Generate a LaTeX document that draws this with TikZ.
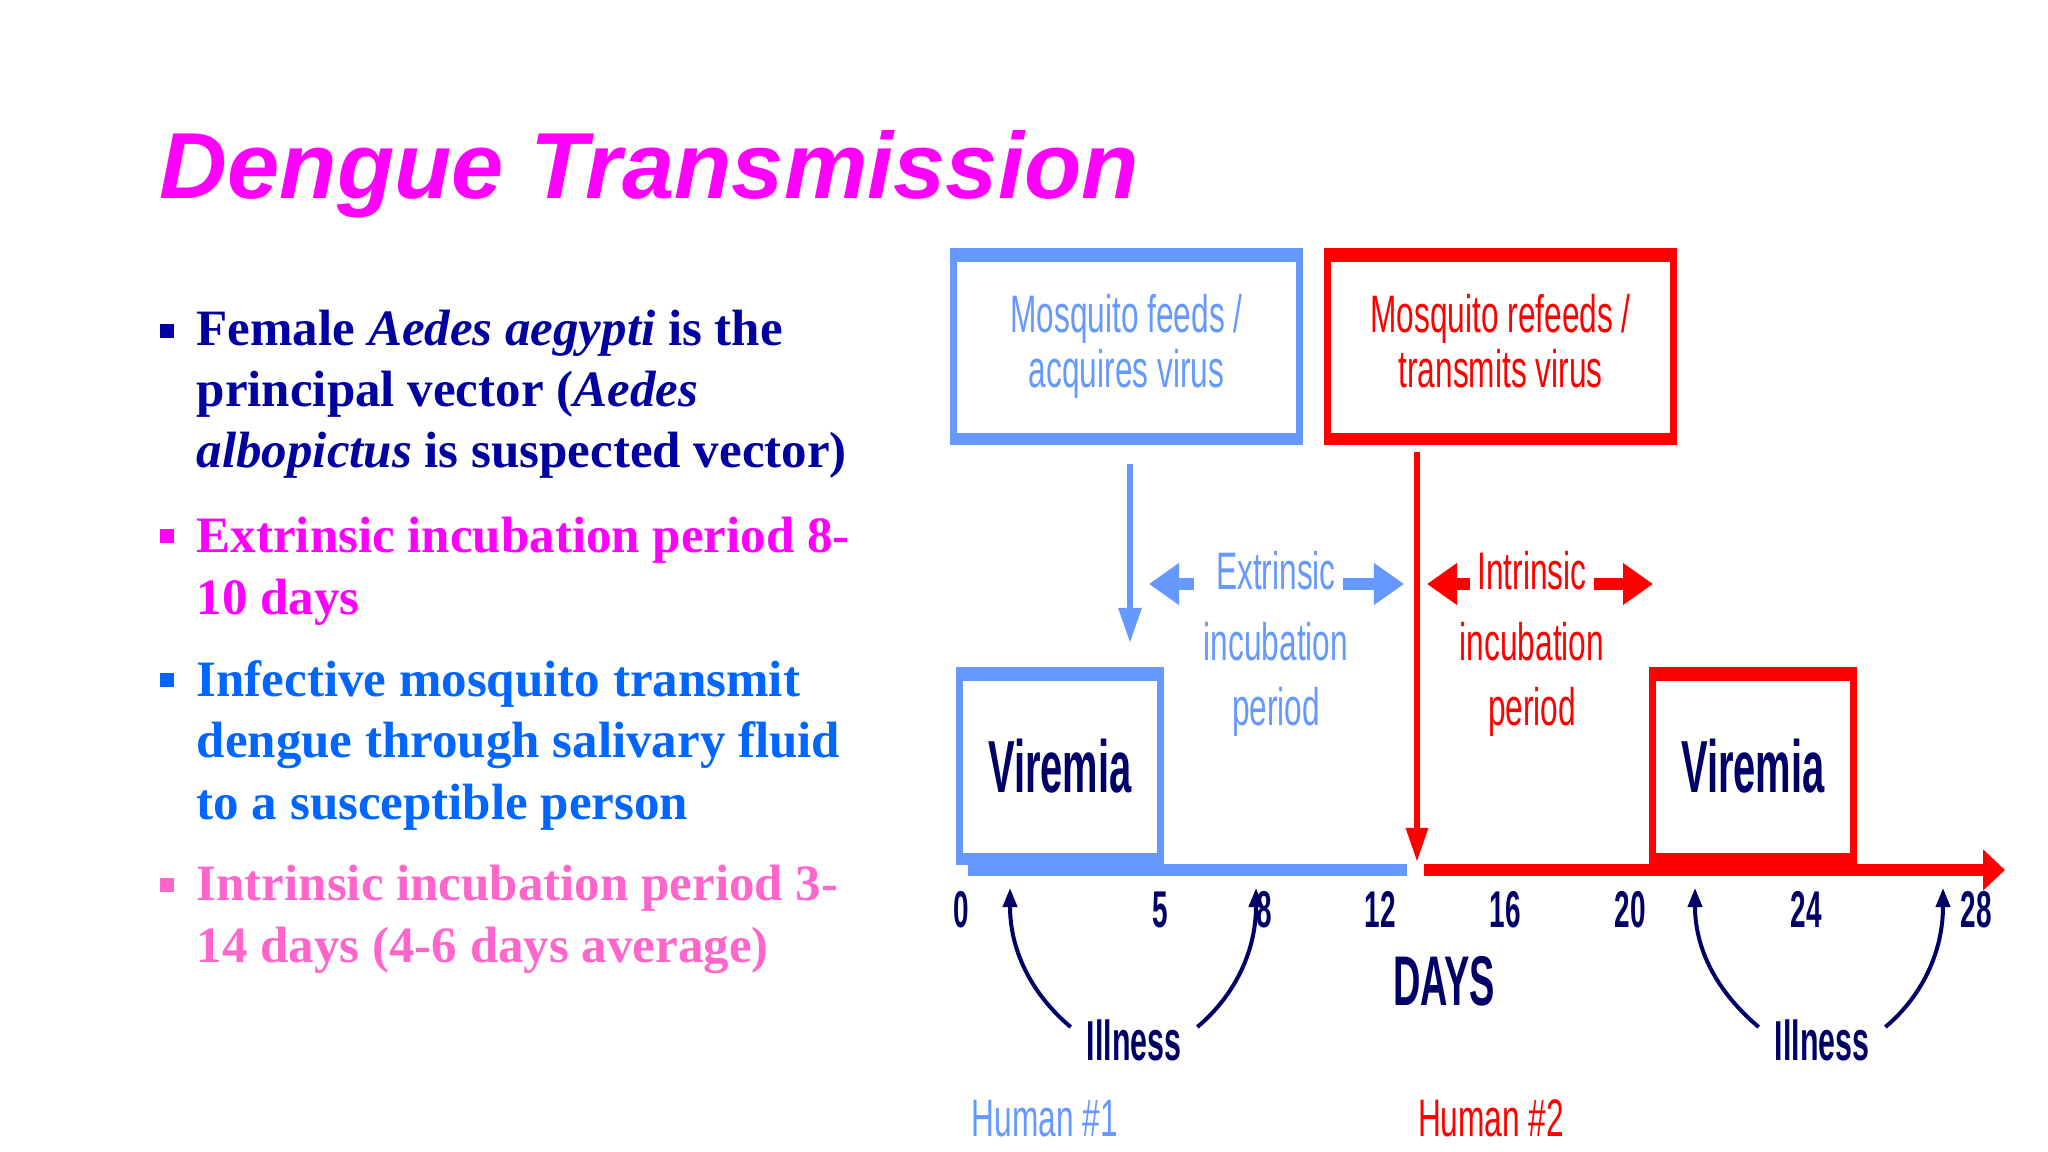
\documentclass[tikz,border=0pt]{standalone}
\usepackage{fontspec}
\setmainfont{Liberation Serif}
\newfontfamily\titlefont{Liberation Sans}
\newfontfamily\narrowfont[FakeStretch=0.6]{Liberation Sans}
\newfontfamily\narrowbold[FakeStretch=0.54]{Liberation Sans}
\usepackage{xcolor}
\usetikzlibrary{arrows.meta,positioning}
\definecolor{titlemagenta}{RGB}{255,0,255}
\definecolor{vectornavy}{RGB}{0,0,160}
\definecolor{infectblue}{RGB}{0,102,255}
\definecolor{intrinsicpink}{RGB}{255,102,204}
\definecolor{feedblue}{RGB}{102,153,255}
\definecolor{refeedred}{RGB}{255,0,0}
\definecolor{dayink}{RGB}{0,0,102}

\begin{document}
\begin{tikzpicture}[x=0.01cm, y=-0.01cm, >=Latex,
  point/.style={anchor=base west, align=left, inner sep=0pt, text=#1, font=\fontsize{14.5}{17.4}\selectfont\bfseries},
  pointmark/.style={fill=#1, minimum size=0.13cm, inner sep=0pt},
  band/.style={path picture={
      \fill[#1] (path picture bounding box.north west) rectangle ([yshift=-0.11cm]path picture bounding box.north east);
      \fill[#1] (path picture bounding box.south west) rectangle ([yshift=0.09cm]path picture bounding box.south east);}},
  mosquitobox/.style={draw=#1, text=#1, band=#1, line width=0.07cm, minimum width=3.46cm, minimum height=1.9cm, align=center, inner sep=0pt, font=\narrowfont\fontsize{15}{15.5}\selectfont},
  viremiabox/.style={draw=#1, band=#1, line width=0.07cm, minimum width=2.0cm, minimum height=1.91cm, inner sep=0pt, text=dayink, font=\narrowbold\bfseries\fontsize{21}{24}\selectfont},
  period/.style={align=center, inner sep=0pt, text=#1, font=\narrowfont\fontsize{15}{18.5}\selectfont},
  day/.style={anchor=base, inner sep=0pt, text=dayink, font=\narrowbold\bfseries\fontsize{14.7}{16}\selectfont},
  human/.style={anchor=base, inner sep=0pt, text=#1, font=\narrowfont\fontsize{15}{16}\selectfont},
  periodarrow/.style={-{Triangle[length=0.3cm, width=0.4cm]}, line width=0.12cm, draw=#1},
  bite/.style={-{Triangle[length=0.35cm, width=0.22cm]}, line width=0.06cm, draw=#1},
  illness/.style={-{Triangle[length=0.19cm, width=0.14cm]}, line width=0.04cm, draw=dayink},
  axis/.style={line width=0.11cm, draw=#1}]
\useasboundingbox[fill=white] (0,0) rectangle (2048,1152);
\node[anchor=base west, inner sep=0pt, text=titlemagenta, font=\titlefont\bfseries\itshape\fontsize{26.7}{30}\selectfont] (title) at (159,199) {Dengue Transmission};
\node[pointmark=vectornavy] (mark1) at (167,331) {};
\node[point=vectornavy] (point1) at (196,468) {Female \textit{Aedes aegypti} is the\\principal vector (\textit{Aedes}\\\textit{albopictus} is suspected vector)};
\node[pointmark=titlemagenta] (mark2) at (167,536) {};
\node[point=titlemagenta] (point2) at (196,614) {Extrinsic incubation period 8-\\10 days};
\node[pointmark=infectblue] (mark3) at (167,680) {};
\node[point=infectblue] (point3) at (196,819) {Infective mosquito transmit\\dengue through salivary fluid\\to a susceptible person};
\node[pointmark=intrinsicpink] (mark4) at (167,885) {};
\node[point=intrinsicpink] (point4) at (196,962) {Intrinsic incubation period 3-\\14 days (4-6 days average)};
\node[mosquitobox=feedblue] (feed) at (1126.5,346.5) {Mosquito feeds /\\acquires virus};
\node[mosquitobox=refeedred] (refeed) at (1500.5,346.5) {Mosquito refeeds /\\transmits virus\vphantom{q}};
\node[viremiabox=feedblue] (viremia1) at (1060,766) {Viremia};
\node[viremiabox=refeedred] (viremia2) at (1753,766) {Viremia};
\node[period=feedblue, anchor=base] (extr) at (1276,590) {Extrinsic};
\node[period=feedblue, below=0.3cm of extr] (extrinc) {incubation\\period};
\node[period=refeedred, anchor=base] (intr) at (1532,590) {Intrinsic};
\node[period=refeedred, below=0.3cm of intr] (intrinc) {incubation\\period};
\coordinate (bite1) at (1130,643);
\coordinate (bite2) at (1417,862);
\coordinate (extrL) at (1149,584);
\coordinate (extrR) at (1404,584);
\coordinate (intrL) at (1427,584);
\coordinate (intrR) at (1653,584);
\coordinate (day0) at (968,870);
\coordinate (day13) at (1407,870);
\coordinate (day13b) at (1424,870);
\coordinate (dayend) at (2005,870);
\draw[axis=feedblue] (day0) -- (day13);
\draw[axis=refeedred, -{Triangle[length=0.22cm, width=0.4cm]}] (day13b) -- (dayend);
\draw[bite=feedblue, shorten <=0.19cm] (feed.south -| bite1) -- (bite1);
\draw[bite=refeedred, shorten <=0.07cm, -{Triangle[length=0.34cm, width=0.21cm]}] (refeed.south -| bite2) -- (bite2);
\draw[periodarrow=feedblue, shorten <=0.22cm] (extr.west |- extrL) -- (extrL);
\draw[periodarrow=feedblue, shorten <=0.06cm] (extr.east |- extrR) -- (extrR);
\draw[periodarrow=refeedred, shorten <=0.07cm] (intr.west |- intrL) -- (intrL);
\draw[periodarrow=refeedred, shorten <=0.07cm] (intr.east |- intrR) -- (intrR);
\node[day] (d0) at (961,927) {0};
\node[day] (d5) at (1160,927) {5};
\node[day] (d8) at (1264,927) {8};
\node[day] (d12) at (1380,927) {12};
\node[day] (d16) at (1505,927) {16};
\node[day] (d20) at (1630,927) {20};
\node[day] (d24) at (1806,927) {24};
\node[day] (d28) at (1976,927) {28};
\node[day, font=\narrowbold\bfseries\fontsize{20}{22}\selectfont] (days) at (1444,1005) {DAYS};
\node[day, font=\narrowbold\bfseries\fontsize{16}{18}\selectfont] (ill1) at (1134,1060) {Illness};
\node[day, font=\narrowbold\bfseries\fontsize{16}{18}\selectfont] (ill2) at (1822,1060) {Illness};
\coordinate (ill1a) at (1010,888);
\coordinate (ill1b) at (1256,888);
\coordinate (ill2a) at (1695,888);
\coordinate (ill2b) at (1943,888);
\draw[illness, shorten <=0.2cm] (ill1.west) to[out=140, in=-90] (ill1a);
\draw[illness, shorten <=0.2cm] (ill1.east) to[out=40, in=-90] (ill1b);
\draw[illness, shorten <=0.2cm] (ill2.west) to[out=140, in=-90] (ill2a);
\draw[illness, shorten <=0.2cm] (ill2.east) to[out=40, in=-90] (ill2b);
\node[human=feedblue] (human1) at (1045,1136) {Human \#1};
\node[human=refeedred] (human2) at (1491,1136) {Human \#2};
\end{tikzpicture}
\end{document}
